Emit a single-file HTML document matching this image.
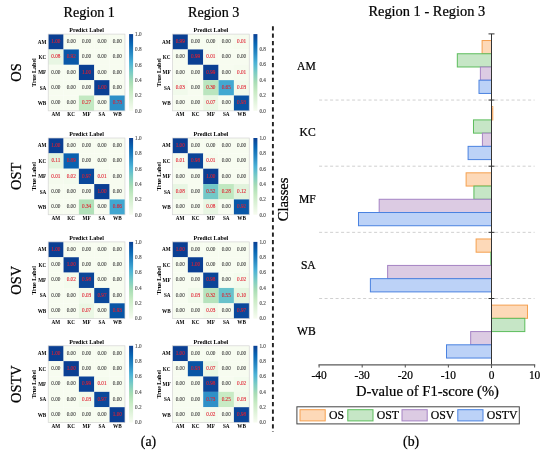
<!DOCTYPE html>
<html><head><meta charset="utf-8"><style>
html,body{margin:0;padding:0;background:#fff;}
body{width:550px;height:455px;overflow:hidden;}
svg{display:block;filter:blur(0.45px);}
text{font-family:"Liberation Serif",serif;}
</style></head><body>
<svg width="550" height="455" viewBox="0 0 550 455">
<rect width="550" height="455" fill="#fff"/>
<rect x="48.20" y="34.10" width="15.40" height="15.40" fill="#0a3f93"/>
<rect x="63.55" y="34.10" width="15.40" height="15.40" fill="#f7fcf0"/>
<rect x="78.90" y="34.10" width="15.40" height="15.40" fill="#f7fcf0"/>
<rect x="94.25" y="34.10" width="15.40" height="15.40" fill="#f7fcf0"/>
<rect x="109.60" y="34.10" width="15.40" height="15.40" fill="#f7fcf0"/>
<rect x="48.20" y="49.45" width="15.40" height="15.40" fill="#e8f6e3"/>
<rect x="63.55" y="49.45" width="15.40" height="15.40" fill="#0958a8"/>
<rect x="78.90" y="49.45" width="15.40" height="15.40" fill="#f7fcf0"/>
<rect x="94.25" y="49.45" width="15.40" height="15.40" fill="#f7fcf0"/>
<rect x="109.60" y="49.45" width="15.40" height="15.40" fill="#f7fcf0"/>
<rect x="48.20" y="64.80" width="15.40" height="15.40" fill="#f7fcf0"/>
<rect x="63.55" y="64.80" width="15.40" height="15.40" fill="#f7fcf0"/>
<rect x="78.90" y="64.80" width="15.40" height="15.40" fill="#0a3f93"/>
<rect x="94.25" y="64.80" width="15.40" height="15.40" fill="#f7fcf0"/>
<rect x="109.60" y="64.80" width="15.40" height="15.40" fill="#f7fcf0"/>
<rect x="48.20" y="80.15" width="15.40" height="15.40" fill="#f7fcf0"/>
<rect x="63.55" y="80.15" width="15.40" height="15.40" fill="#f7fcf0"/>
<rect x="78.90" y="80.15" width="15.40" height="15.40" fill="#f7fcf0"/>
<rect x="94.25" y="80.15" width="15.40" height="15.40" fill="#0a3f93"/>
<rect x="109.60" y="80.15" width="15.40" height="15.40" fill="#f7fcf0"/>
<rect x="48.20" y="95.50" width="15.40" height="15.40" fill="#f7fcf0"/>
<rect x="63.55" y="95.50" width="15.40" height="15.40" fill="#f7fcf0"/>
<rect x="78.90" y="95.50" width="15.40" height="15.40" fill="#c3e9c2"/>
<rect x="94.25" y="95.50" width="15.40" height="15.40" fill="#f7fcf0"/>
<rect x="109.60" y="95.50" width="15.40" height="15.40" fill="#2e90c7"/>
<rect x="48.20" y="34.10" width="76.75" height="76.75" fill="none" stroke="#d4d4d4" stroke-width="0.7"/>
<text font-size="5.2" text-anchor="middle" fill="#e02030" transform="translate(55.88 42.98)" stroke="#e02030" stroke-width="0.1">1.00</text>
<text font-size="5.2" text-anchor="middle" fill="#3c3c3c" transform="translate(71.22 42.98)" stroke="#3c3c3c" stroke-width="0.1">0.00</text>
<text font-size="5.2" text-anchor="middle" fill="#3c3c3c" transform="translate(86.58 42.98)" stroke="#3c3c3c" stroke-width="0.1">0.00</text>
<text font-size="5.2" text-anchor="middle" fill="#3c3c3c" transform="translate(101.93 42.98)" stroke="#3c3c3c" stroke-width="0.1">0.00</text>
<text font-size="5.2" text-anchor="middle" fill="#3c3c3c" transform="translate(117.28 42.98)" stroke="#3c3c3c" stroke-width="0.1">0.00</text>
<text font-size="5.2" text-anchor="middle" fill="#e02030" transform="translate(55.88 58.33)" stroke="#e02030" stroke-width="0.1">0.08</text>
<text font-size="5.2" text-anchor="middle" fill="#e02030" transform="translate(71.22 58.33)" stroke="#e02030" stroke-width="0.1">0.92</text>
<text font-size="5.2" text-anchor="middle" fill="#3c3c3c" transform="translate(86.58 58.33)" stroke="#3c3c3c" stroke-width="0.1">0.00</text>
<text font-size="5.2" text-anchor="middle" fill="#3c3c3c" transform="translate(101.93 58.33)" stroke="#3c3c3c" stroke-width="0.1">0.00</text>
<text font-size="5.2" text-anchor="middle" fill="#3c3c3c" transform="translate(117.28 58.33)" stroke="#3c3c3c" stroke-width="0.1">0.00</text>
<text font-size="5.2" text-anchor="middle" fill="#3c3c3c" transform="translate(55.88 73.67)" stroke="#3c3c3c" stroke-width="0.1">0.00</text>
<text font-size="5.2" text-anchor="middle" fill="#3c3c3c" transform="translate(71.22 73.67)" stroke="#3c3c3c" stroke-width="0.1">0.00</text>
<text font-size="5.2" text-anchor="middle" fill="#e02030" transform="translate(86.58 73.67)" stroke="#e02030" stroke-width="0.1">1.00</text>
<text font-size="5.2" text-anchor="middle" fill="#3c3c3c" transform="translate(101.93 73.67)" stroke="#3c3c3c" stroke-width="0.1">0.00</text>
<text font-size="5.2" text-anchor="middle" fill="#3c3c3c" transform="translate(117.28 73.67)" stroke="#3c3c3c" stroke-width="0.1">0.00</text>
<text font-size="5.2" text-anchor="middle" fill="#3c3c3c" transform="translate(55.88 89.03)" stroke="#3c3c3c" stroke-width="0.1">0.00</text>
<text font-size="5.2" text-anchor="middle" fill="#3c3c3c" transform="translate(71.22 89.03)" stroke="#3c3c3c" stroke-width="0.1">0.00</text>
<text font-size="5.2" text-anchor="middle" fill="#3c3c3c" transform="translate(86.58 89.03)" stroke="#3c3c3c" stroke-width="0.1">0.00</text>
<text font-size="5.2" text-anchor="middle" fill="#e02030" transform="translate(101.93 89.03)" stroke="#e02030" stroke-width="0.1">1.00</text>
<text font-size="5.2" text-anchor="middle" fill="#3c3c3c" transform="translate(117.28 89.03)" stroke="#3c3c3c" stroke-width="0.1">0.00</text>
<text font-size="5.2" text-anchor="middle" fill="#3c3c3c" transform="translate(55.88 104.38)" stroke="#3c3c3c" stroke-width="0.1">0.00</text>
<text font-size="5.2" text-anchor="middle" fill="#3c3c3c" transform="translate(71.22 104.38)" stroke="#3c3c3c" stroke-width="0.1">0.00</text>
<text font-size="5.2" text-anchor="middle" fill="#e02030" transform="translate(86.58 104.38)" stroke="#e02030" stroke-width="0.1">0.27</text>
<text font-size="5.2" text-anchor="middle" fill="#3c3c3c" transform="translate(101.93 104.38)" stroke="#3c3c3c" stroke-width="0.1">0.00</text>
<text font-size="5.2" text-anchor="middle" fill="#e02030" transform="translate(117.28 104.38)" stroke="#e02030" stroke-width="0.1">0.73</text>
<text font-size="5.2" text-anchor="end" fill="#000" font-weight="bold" transform="translate(46.30 43.57)">AM</text>
<text font-size="5.2" text-anchor="middle" fill="#000" font-weight="bold" transform="translate(55.88 116.35)">AM</text>
<text font-size="5.2" text-anchor="end" fill="#000" font-weight="bold" transform="translate(46.30 58.92)">KC</text>
<text font-size="5.2" text-anchor="middle" fill="#000" font-weight="bold" transform="translate(71.22 116.35)">KC</text>
<text font-size="5.2" text-anchor="end" fill="#000" font-weight="bold" transform="translate(46.30 74.27)">MF</text>
<text font-size="5.2" text-anchor="middle" fill="#000" font-weight="bold" transform="translate(86.58 116.35)">MF</text>
<text font-size="5.2" text-anchor="end" fill="#000" font-weight="bold" transform="translate(46.30 89.62)">SA</text>
<text font-size="5.2" text-anchor="middle" fill="#000" font-weight="bold" transform="translate(101.93 116.35)">SA</text>
<text font-size="5.2" text-anchor="end" fill="#000" font-weight="bold" transform="translate(46.30 104.98)">WB</text>
<text font-size="5.2" text-anchor="middle" fill="#000" font-weight="bold" transform="translate(117.28 116.35)">WB</text>
<text font-size="6" text-anchor="middle" fill="#000" font-weight="bold" transform="translate(86.58 31.80)">Predict Label</text>
<text font-size="6" text-anchor="middle" fill="#000" font-weight="bold" transform="translate(36.20 72.47) rotate(-90)">True Label</text>
<linearGradient id="g00" x1="0" y1="1" x2="0" y2="0"><stop offset="0.0000" stop-color="#f7fcf0"/><stop offset="0.1250" stop-color="#e0f3db"/><stop offset="0.2500" stop-color="#c8ebc4"/><stop offset="0.3750" stop-color="#a8ddb5"/><stop offset="0.5000" stop-color="#7bccc4"/><stop offset="0.6250" stop-color="#4bb2d6"/><stop offset="0.7500" stop-color="#2889c4"/><stop offset="0.8750" stop-color="#0866b4"/><stop offset="1.0000" stop-color="#0a3f93"/></linearGradient>
<rect x="129.10" y="34.10" width="4.0" height="76.75" fill="url(#g00)"/>
<text font-size="5.2" text-anchor="start" fill="#4a4a4a" transform="translate(135.10 112.65)" stroke="#4a4a4a" stroke-width="0.12">0.0</text>
<text font-size="5.2" text-anchor="start" fill="#4a4a4a" transform="translate(135.10 97.30)" stroke="#4a4a4a" stroke-width="0.12">0.2</text>
<text font-size="5.2" text-anchor="start" fill="#4a4a4a" transform="translate(135.10 81.95)" stroke="#4a4a4a" stroke-width="0.12">0.4</text>
<text font-size="5.2" text-anchor="start" fill="#4a4a4a" transform="translate(135.10 66.60)" stroke="#4a4a4a" stroke-width="0.12">0.6</text>
<text font-size="5.2" text-anchor="start" fill="#4a4a4a" transform="translate(135.10 51.25)" stroke="#4a4a4a" stroke-width="0.12">0.8</text>
<text font-size="5.2" text-anchor="start" fill="#4a4a4a" transform="translate(135.10 35.90)" stroke="#4a4a4a" stroke-width="0.12">1.0</text>
<rect x="48.20" y="138.00" width="15.40" height="15.40" fill="#0a3f93"/>
<rect x="63.55" y="138.00" width="15.40" height="15.40" fill="#f7fcf0"/>
<rect x="78.90" y="138.00" width="15.40" height="15.40" fill="#f7fcf0"/>
<rect x="94.25" y="138.00" width="15.40" height="15.40" fill="#f7fcf0"/>
<rect x="109.60" y="138.00" width="15.40" height="15.40" fill="#f7fcf0"/>
<rect x="48.20" y="153.35" width="15.40" height="15.40" fill="#e3f4de"/>
<rect x="63.55" y="153.35" width="15.40" height="15.40" fill="#0861b0"/>
<rect x="78.90" y="153.35" width="15.40" height="15.40" fill="#f7fcf0"/>
<rect x="94.25" y="153.35" width="15.40" height="15.40" fill="#f7fcf0"/>
<rect x="109.60" y="153.35" width="15.40" height="15.40" fill="#f7fcf0"/>
<rect x="48.20" y="168.70" width="15.40" height="15.40" fill="#f5fbee"/>
<rect x="63.55" y="168.70" width="15.40" height="15.40" fill="#f3fbed"/>
<rect x="78.90" y="168.70" width="15.40" height="15.40" fill="#0a489b"/>
<rect x="94.25" y="168.70" width="15.40" height="15.40" fill="#f5fbee"/>
<rect x="109.60" y="168.70" width="15.40" height="15.40" fill="#f7fcf0"/>
<rect x="48.20" y="184.05" width="15.40" height="15.40" fill="#f7fcf0"/>
<rect x="63.55" y="184.05" width="15.40" height="15.40" fill="#f7fcf0"/>
<rect x="78.90" y="184.05" width="15.40" height="15.40" fill="#f7fcf0"/>
<rect x="94.25" y="184.05" width="15.40" height="15.40" fill="#0a3f93"/>
<rect x="109.60" y="184.05" width="15.40" height="15.40" fill="#f7fcf0"/>
<rect x="48.20" y="199.40" width="15.40" height="15.40" fill="#f7fcf0"/>
<rect x="63.55" y="199.40" width="15.40" height="15.40" fill="#f7fcf0"/>
<rect x="78.90" y="199.40" width="15.40" height="15.40" fill="#b1e1b9"/>
<rect x="94.25" y="199.40" width="15.40" height="15.40" fill="#f7fcf0"/>
<rect x="109.60" y="199.40" width="15.40" height="15.40" fill="#41a7d1"/>
<rect x="48.20" y="138.00" width="76.75" height="76.75" fill="none" stroke="#d4d4d4" stroke-width="0.7"/>
<text font-size="5.2" text-anchor="middle" fill="#e02030" transform="translate(55.88 146.88)" stroke="#e02030" stroke-width="0.1">1.00</text>
<text font-size="5.2" text-anchor="middle" fill="#3c3c3c" transform="translate(71.22 146.88)" stroke="#3c3c3c" stroke-width="0.1">0.00</text>
<text font-size="5.2" text-anchor="middle" fill="#3c3c3c" transform="translate(86.58 146.88)" stroke="#3c3c3c" stroke-width="0.1">0.00</text>
<text font-size="5.2" text-anchor="middle" fill="#3c3c3c" transform="translate(101.93 146.88)" stroke="#3c3c3c" stroke-width="0.1">0.00</text>
<text font-size="5.2" text-anchor="middle" fill="#3c3c3c" transform="translate(117.28 146.88)" stroke="#3c3c3c" stroke-width="0.1">0.00</text>
<text font-size="5.2" text-anchor="middle" fill="#e02030" transform="translate(55.88 162.22)" stroke="#e02030" stroke-width="0.1">0.11</text>
<text font-size="5.2" text-anchor="middle" fill="#e02030" transform="translate(71.22 162.22)" stroke="#e02030" stroke-width="0.1">0.89</text>
<text font-size="5.2" text-anchor="middle" fill="#3c3c3c" transform="translate(86.58 162.22)" stroke="#3c3c3c" stroke-width="0.1">0.00</text>
<text font-size="5.2" text-anchor="middle" fill="#3c3c3c" transform="translate(101.93 162.22)" stroke="#3c3c3c" stroke-width="0.1">0.00</text>
<text font-size="5.2" text-anchor="middle" fill="#3c3c3c" transform="translate(117.28 162.22)" stroke="#3c3c3c" stroke-width="0.1">0.00</text>
<text font-size="5.2" text-anchor="middle" fill="#e02030" transform="translate(55.88 177.57)" stroke="#e02030" stroke-width="0.1">0.01</text>
<text font-size="5.2" text-anchor="middle" fill="#e02030" transform="translate(71.22 177.57)" stroke="#e02030" stroke-width="0.1">0.02</text>
<text font-size="5.2" text-anchor="middle" fill="#e02030" transform="translate(86.58 177.57)" stroke="#e02030" stroke-width="0.1">0.97</text>
<text font-size="5.2" text-anchor="middle" fill="#e02030" transform="translate(101.93 177.57)" stroke="#e02030" stroke-width="0.1">0.01</text>
<text font-size="5.2" text-anchor="middle" fill="#3c3c3c" transform="translate(117.28 177.57)" stroke="#3c3c3c" stroke-width="0.1">0.00</text>
<text font-size="5.2" text-anchor="middle" fill="#3c3c3c" transform="translate(55.88 192.92)" stroke="#3c3c3c" stroke-width="0.1">0.00</text>
<text font-size="5.2" text-anchor="middle" fill="#3c3c3c" transform="translate(71.22 192.92)" stroke="#3c3c3c" stroke-width="0.1">0.00</text>
<text font-size="5.2" text-anchor="middle" fill="#3c3c3c" transform="translate(86.58 192.92)" stroke="#3c3c3c" stroke-width="0.1">0.00</text>
<text font-size="5.2" text-anchor="middle" fill="#e02030" transform="translate(101.93 192.92)" stroke="#e02030" stroke-width="0.1">1.00</text>
<text font-size="5.2" text-anchor="middle" fill="#3c3c3c" transform="translate(117.28 192.92)" stroke="#3c3c3c" stroke-width="0.1">0.00</text>
<text font-size="5.2" text-anchor="middle" fill="#3c3c3c" transform="translate(55.88 208.27)" stroke="#3c3c3c" stroke-width="0.1">0.00</text>
<text font-size="5.2" text-anchor="middle" fill="#3c3c3c" transform="translate(71.22 208.27)" stroke="#3c3c3c" stroke-width="0.1">0.00</text>
<text font-size="5.2" text-anchor="middle" fill="#e02030" transform="translate(86.58 208.27)" stroke="#e02030" stroke-width="0.1">0.34</text>
<text font-size="5.2" text-anchor="middle" fill="#3c3c3c" transform="translate(101.93 208.27)" stroke="#3c3c3c" stroke-width="0.1">0.00</text>
<text font-size="5.2" text-anchor="middle" fill="#e02030" transform="translate(117.28 208.27)" stroke="#e02030" stroke-width="0.1">0.66</text>
<text font-size="5.2" text-anchor="end" fill="#000" font-weight="bold" transform="translate(46.30 147.48)">AM</text>
<text font-size="5.2" text-anchor="middle" fill="#000" font-weight="bold" transform="translate(55.88 220.25)">AM</text>
<text font-size="5.2" text-anchor="end" fill="#000" font-weight="bold" transform="translate(46.30 162.83)">KC</text>
<text font-size="5.2" text-anchor="middle" fill="#000" font-weight="bold" transform="translate(71.22 220.25)">KC</text>
<text font-size="5.2" text-anchor="end" fill="#000" font-weight="bold" transform="translate(46.30 178.18)">MF</text>
<text font-size="5.2" text-anchor="middle" fill="#000" font-weight="bold" transform="translate(86.58 220.25)">MF</text>
<text font-size="5.2" text-anchor="end" fill="#000" font-weight="bold" transform="translate(46.30 193.53)">SA</text>
<text font-size="5.2" text-anchor="middle" fill="#000" font-weight="bold" transform="translate(101.93 220.25)">SA</text>
<text font-size="5.2" text-anchor="end" fill="#000" font-weight="bold" transform="translate(46.30 208.88)">WB</text>
<text font-size="5.2" text-anchor="middle" fill="#000" font-weight="bold" transform="translate(117.28 220.25)">WB</text>
<text font-size="6" text-anchor="middle" fill="#000" font-weight="bold" transform="translate(86.58 135.70)">Predict Label</text>
<text font-size="6" text-anchor="middle" fill="#000" font-weight="bold" transform="translate(36.20 176.38) rotate(-90)">True Label</text>
<linearGradient id="g01" x1="0" y1="1" x2="0" y2="0"><stop offset="0.0000" stop-color="#f7fcf0"/><stop offset="0.1250" stop-color="#e0f3db"/><stop offset="0.2500" stop-color="#c8ebc4"/><stop offset="0.3750" stop-color="#a8ddb5"/><stop offset="0.5000" stop-color="#7bccc4"/><stop offset="0.6250" stop-color="#4bb2d6"/><stop offset="0.7500" stop-color="#2889c4"/><stop offset="0.8750" stop-color="#0866b4"/><stop offset="1.0000" stop-color="#0a3f93"/></linearGradient>
<rect x="129.10" y="138.00" width="4.0" height="76.75" fill="url(#g01)"/>
<text font-size="5.2" text-anchor="start" fill="#4a4a4a" transform="translate(135.10 216.55)" stroke="#4a4a4a" stroke-width="0.12">0.0</text>
<text font-size="5.2" text-anchor="start" fill="#4a4a4a" transform="translate(135.10 201.20)" stroke="#4a4a4a" stroke-width="0.12">0.2</text>
<text font-size="5.2" text-anchor="start" fill="#4a4a4a" transform="translate(135.10 185.85)" stroke="#4a4a4a" stroke-width="0.12">0.4</text>
<text font-size="5.2" text-anchor="start" fill="#4a4a4a" transform="translate(135.10 170.50)" stroke="#4a4a4a" stroke-width="0.12">0.6</text>
<text font-size="5.2" text-anchor="start" fill="#4a4a4a" transform="translate(135.10 155.15)" stroke="#4a4a4a" stroke-width="0.12">0.8</text>
<text font-size="5.2" text-anchor="start" fill="#4a4a4a" transform="translate(135.10 139.80)" stroke="#4a4a4a" stroke-width="0.12">1.0</text>
<rect x="48.20" y="241.90" width="15.40" height="15.40" fill="#0a3f93"/>
<rect x="63.55" y="241.90" width="15.40" height="15.40" fill="#f7fcf0"/>
<rect x="78.90" y="241.90" width="15.40" height="15.40" fill="#f7fcf0"/>
<rect x="94.25" y="241.90" width="15.40" height="15.40" fill="#f7fcf0"/>
<rect x="109.60" y="241.90" width="15.40" height="15.40" fill="#f7fcf0"/>
<rect x="48.20" y="257.25" width="15.40" height="15.40" fill="#f7fcf0"/>
<rect x="63.55" y="257.25" width="15.40" height="15.40" fill="#0a3f93"/>
<rect x="78.90" y="257.25" width="15.40" height="15.40" fill="#f7fcf0"/>
<rect x="94.25" y="257.25" width="15.40" height="15.40" fill="#f7fcf0"/>
<rect x="109.60" y="257.25" width="15.40" height="15.40" fill="#f7fcf0"/>
<rect x="48.20" y="272.60" width="15.40" height="15.40" fill="#f7fcf0"/>
<rect x="63.55" y="272.60" width="15.40" height="15.40" fill="#f3fbed"/>
<rect x="78.90" y="272.60" width="15.40" height="15.40" fill="#0a4598"/>
<rect x="94.25" y="272.60" width="15.40" height="15.40" fill="#f7fcf0"/>
<rect x="109.60" y="272.60" width="15.40" height="15.40" fill="#f7fcf0"/>
<rect x="48.20" y="287.95" width="15.40" height="15.40" fill="#f7fcf0"/>
<rect x="63.55" y="287.95" width="15.40" height="15.40" fill="#f7fcf0"/>
<rect x="78.90" y="287.95" width="15.40" height="15.40" fill="#f1faeb"/>
<rect x="94.25" y="287.95" width="15.40" height="15.40" fill="#0a489b"/>
<rect x="109.60" y="287.95" width="15.40" height="15.40" fill="#f7fcf0"/>
<rect x="48.20" y="303.30" width="15.40" height="15.40" fill="#f7fcf0"/>
<rect x="63.55" y="303.30" width="15.40" height="15.40" fill="#f7fcf0"/>
<rect x="78.90" y="303.30" width="15.40" height="15.40" fill="#eaf7e4"/>
<rect x="94.25" y="303.30" width="15.40" height="15.40" fill="#f7fcf0"/>
<rect x="109.60" y="303.30" width="15.40" height="15.40" fill="#0955a5"/>
<rect x="48.20" y="241.90" width="76.75" height="76.75" fill="none" stroke="#d4d4d4" stroke-width="0.7"/>
<text font-size="5.2" text-anchor="middle" fill="#e02030" transform="translate(55.88 250.78)" stroke="#e02030" stroke-width="0.1">1.00</text>
<text font-size="5.2" text-anchor="middle" fill="#3c3c3c" transform="translate(71.22 250.78)" stroke="#3c3c3c" stroke-width="0.1">0.00</text>
<text font-size="5.2" text-anchor="middle" fill="#3c3c3c" transform="translate(86.58 250.78)" stroke="#3c3c3c" stroke-width="0.1">0.00</text>
<text font-size="5.2" text-anchor="middle" fill="#3c3c3c" transform="translate(101.93 250.78)" stroke="#3c3c3c" stroke-width="0.1">0.00</text>
<text font-size="5.2" text-anchor="middle" fill="#3c3c3c" transform="translate(117.28 250.78)" stroke="#3c3c3c" stroke-width="0.1">0.00</text>
<text font-size="5.2" text-anchor="middle" fill="#3c3c3c" transform="translate(55.88 266.12)" stroke="#3c3c3c" stroke-width="0.1">0.00</text>
<text font-size="5.2" text-anchor="middle" fill="#e02030" transform="translate(71.22 266.12)" stroke="#e02030" stroke-width="0.1">1.00</text>
<text font-size="5.2" text-anchor="middle" fill="#3c3c3c" transform="translate(86.58 266.12)" stroke="#3c3c3c" stroke-width="0.1">0.00</text>
<text font-size="5.2" text-anchor="middle" fill="#3c3c3c" transform="translate(101.93 266.12)" stroke="#3c3c3c" stroke-width="0.1">0.00</text>
<text font-size="5.2" text-anchor="middle" fill="#3c3c3c" transform="translate(117.28 266.12)" stroke="#3c3c3c" stroke-width="0.1">0.00</text>
<text font-size="5.2" text-anchor="middle" fill="#3c3c3c" transform="translate(55.88 281.47)" stroke="#3c3c3c" stroke-width="0.1">0.00</text>
<text font-size="5.2" text-anchor="middle" fill="#e02030" transform="translate(71.22 281.47)" stroke="#e02030" stroke-width="0.1">0.02</text>
<text font-size="5.2" text-anchor="middle" fill="#e02030" transform="translate(86.58 281.47)" stroke="#e02030" stroke-width="0.1">0.98</text>
<text font-size="5.2" text-anchor="middle" fill="#3c3c3c" transform="translate(101.93 281.47)" stroke="#3c3c3c" stroke-width="0.1">0.00</text>
<text font-size="5.2" text-anchor="middle" fill="#3c3c3c" transform="translate(117.28 281.47)" stroke="#3c3c3c" stroke-width="0.1">0.00</text>
<text font-size="5.2" text-anchor="middle" fill="#3c3c3c" transform="translate(55.88 296.82)" stroke="#3c3c3c" stroke-width="0.1">0.00</text>
<text font-size="5.2" text-anchor="middle" fill="#3c3c3c" transform="translate(71.22 296.82)" stroke="#3c3c3c" stroke-width="0.1">0.00</text>
<text font-size="5.2" text-anchor="middle" fill="#e02030" transform="translate(86.58 296.82)" stroke="#e02030" stroke-width="0.1">0.03</text>
<text font-size="5.2" text-anchor="middle" fill="#e02030" transform="translate(101.93 296.82)" stroke="#e02030" stroke-width="0.1">0.97</text>
<text font-size="5.2" text-anchor="middle" fill="#3c3c3c" transform="translate(117.28 296.82)" stroke="#3c3c3c" stroke-width="0.1">0.00</text>
<text font-size="5.2" text-anchor="middle" fill="#3c3c3c" transform="translate(55.88 312.18)" stroke="#3c3c3c" stroke-width="0.1">0.00</text>
<text font-size="5.2" text-anchor="middle" fill="#3c3c3c" transform="translate(71.22 312.18)" stroke="#3c3c3c" stroke-width="0.1">0.00</text>
<text font-size="5.2" text-anchor="middle" fill="#e02030" transform="translate(86.58 312.18)" stroke="#e02030" stroke-width="0.1">0.07</text>
<text font-size="5.2" text-anchor="middle" fill="#3c3c3c" transform="translate(101.93 312.18)" stroke="#3c3c3c" stroke-width="0.1">0.00</text>
<text font-size="5.2" text-anchor="middle" fill="#e02030" transform="translate(117.28 312.18)" stroke="#e02030" stroke-width="0.1">0.93</text>
<text font-size="5.2" text-anchor="end" fill="#000" font-weight="bold" transform="translate(46.30 251.38)">AM</text>
<text font-size="5.2" text-anchor="middle" fill="#000" font-weight="bold" transform="translate(55.88 324.15)">AM</text>
<text font-size="5.2" text-anchor="end" fill="#000" font-weight="bold" transform="translate(46.30 266.73)">KC</text>
<text font-size="5.2" text-anchor="middle" fill="#000" font-weight="bold" transform="translate(71.22 324.15)">KC</text>
<text font-size="5.2" text-anchor="end" fill="#000" font-weight="bold" transform="translate(46.30 282.07)">MF</text>
<text font-size="5.2" text-anchor="middle" fill="#000" font-weight="bold" transform="translate(86.58 324.15)">MF</text>
<text font-size="5.2" text-anchor="end" fill="#000" font-weight="bold" transform="translate(46.30 297.43)">SA</text>
<text font-size="5.2" text-anchor="middle" fill="#000" font-weight="bold" transform="translate(101.93 324.15)">SA</text>
<text font-size="5.2" text-anchor="end" fill="#000" font-weight="bold" transform="translate(46.30 312.78)">WB</text>
<text font-size="5.2" text-anchor="middle" fill="#000" font-weight="bold" transform="translate(117.28 324.15)">WB</text>
<text font-size="6" text-anchor="middle" fill="#000" font-weight="bold" transform="translate(86.58 239.60)">Predict Label</text>
<text font-size="6" text-anchor="middle" fill="#000" font-weight="bold" transform="translate(36.20 280.27) rotate(-90)">True Label</text>
<linearGradient id="g02" x1="0" y1="1" x2="0" y2="0"><stop offset="0.0000" stop-color="#f7fcf0"/><stop offset="0.1250" stop-color="#e0f3db"/><stop offset="0.2500" stop-color="#c8ebc4"/><stop offset="0.3750" stop-color="#a8ddb5"/><stop offset="0.5000" stop-color="#7bccc4"/><stop offset="0.6250" stop-color="#4bb2d6"/><stop offset="0.7500" stop-color="#2889c4"/><stop offset="0.8750" stop-color="#0866b4"/><stop offset="1.0000" stop-color="#0a3f93"/></linearGradient>
<rect x="129.10" y="241.90" width="4.0" height="76.75" fill="url(#g02)"/>
<text font-size="5.2" text-anchor="start" fill="#4a4a4a" transform="translate(135.10 320.45)" stroke="#4a4a4a" stroke-width="0.12">0.0</text>
<text font-size="5.2" text-anchor="start" fill="#4a4a4a" transform="translate(135.10 305.10)" stroke="#4a4a4a" stroke-width="0.12">0.2</text>
<text font-size="5.2" text-anchor="start" fill="#4a4a4a" transform="translate(135.10 289.75)" stroke="#4a4a4a" stroke-width="0.12">0.4</text>
<text font-size="5.2" text-anchor="start" fill="#4a4a4a" transform="translate(135.10 274.40)" stroke="#4a4a4a" stroke-width="0.12">0.6</text>
<text font-size="5.2" text-anchor="start" fill="#4a4a4a" transform="translate(135.10 259.05)" stroke="#4a4a4a" stroke-width="0.12">0.8</text>
<text font-size="5.2" text-anchor="start" fill="#4a4a4a" transform="translate(135.10 243.70)" stroke="#4a4a4a" stroke-width="0.12">1.0</text>
<rect x="48.20" y="345.80" width="15.40" height="15.40" fill="#0a3f93"/>
<rect x="63.55" y="345.80" width="15.40" height="15.40" fill="#f7fcf0"/>
<rect x="78.90" y="345.80" width="15.40" height="15.40" fill="#f7fcf0"/>
<rect x="94.25" y="345.80" width="15.40" height="15.40" fill="#f7fcf0"/>
<rect x="109.60" y="345.80" width="15.40" height="15.40" fill="#f7fcf0"/>
<rect x="48.20" y="361.15" width="15.40" height="15.40" fill="#f7fcf0"/>
<rect x="63.55" y="361.15" width="15.40" height="15.40" fill="#0a3f93"/>
<rect x="78.90" y="361.15" width="15.40" height="15.40" fill="#f7fcf0"/>
<rect x="94.25" y="361.15" width="15.40" height="15.40" fill="#f7fcf0"/>
<rect x="109.60" y="361.15" width="15.40" height="15.40" fill="#f7fcf0"/>
<rect x="48.20" y="376.50" width="15.40" height="15.40" fill="#f7fcf0"/>
<rect x="63.55" y="376.50" width="15.40" height="15.40" fill="#f7fcf0"/>
<rect x="78.90" y="376.50" width="15.40" height="15.40" fill="#0a4296"/>
<rect x="94.25" y="376.50" width="15.40" height="15.40" fill="#f5fbee"/>
<rect x="109.60" y="376.50" width="15.40" height="15.40" fill="#f7fcf0"/>
<rect x="48.20" y="391.85" width="15.40" height="15.40" fill="#f7fcf0"/>
<rect x="63.55" y="391.85" width="15.40" height="15.40" fill="#f7fcf0"/>
<rect x="78.90" y="391.85" width="15.40" height="15.40" fill="#f1faeb"/>
<rect x="94.25" y="391.85" width="15.40" height="15.40" fill="#0a489b"/>
<rect x="109.60" y="391.85" width="15.40" height="15.40" fill="#f7fcf0"/>
<rect x="48.20" y="407.20" width="15.40" height="15.40" fill="#f7fcf0"/>
<rect x="63.55" y="407.20" width="15.40" height="15.40" fill="#f7fcf0"/>
<rect x="78.90" y="407.20" width="15.40" height="15.40" fill="#f7fcf0"/>
<rect x="94.25" y="407.20" width="15.40" height="15.40" fill="#f7fcf0"/>
<rect x="109.60" y="407.20" width="15.40" height="15.40" fill="#0a3f93"/>
<rect x="48.20" y="345.80" width="76.75" height="76.75" fill="none" stroke="#d4d4d4" stroke-width="0.7"/>
<text font-size="5.2" text-anchor="middle" fill="#e02030" transform="translate(55.88 354.68)" stroke="#e02030" stroke-width="0.1">1.00</text>
<text font-size="5.2" text-anchor="middle" fill="#3c3c3c" transform="translate(71.22 354.68)" stroke="#3c3c3c" stroke-width="0.1">0.00</text>
<text font-size="5.2" text-anchor="middle" fill="#3c3c3c" transform="translate(86.58 354.68)" stroke="#3c3c3c" stroke-width="0.1">0.00</text>
<text font-size="5.2" text-anchor="middle" fill="#3c3c3c" transform="translate(101.93 354.68)" stroke="#3c3c3c" stroke-width="0.1">0.00</text>
<text font-size="5.2" text-anchor="middle" fill="#3c3c3c" transform="translate(117.28 354.68)" stroke="#3c3c3c" stroke-width="0.1">0.00</text>
<text font-size="5.2" text-anchor="middle" fill="#3c3c3c" transform="translate(55.88 370.02)" stroke="#3c3c3c" stroke-width="0.1">0.00</text>
<text font-size="5.2" text-anchor="middle" fill="#e02030" transform="translate(71.22 370.02)" stroke="#e02030" stroke-width="0.1">1.00</text>
<text font-size="5.2" text-anchor="middle" fill="#3c3c3c" transform="translate(86.58 370.02)" stroke="#3c3c3c" stroke-width="0.1">0.00</text>
<text font-size="5.2" text-anchor="middle" fill="#3c3c3c" transform="translate(101.93 370.02)" stroke="#3c3c3c" stroke-width="0.1">0.00</text>
<text font-size="5.2" text-anchor="middle" fill="#3c3c3c" transform="translate(117.28 370.02)" stroke="#3c3c3c" stroke-width="0.1">0.00</text>
<text font-size="5.2" text-anchor="middle" fill="#3c3c3c" transform="translate(55.88 385.38)" stroke="#3c3c3c" stroke-width="0.1">0.00</text>
<text font-size="5.2" text-anchor="middle" fill="#3c3c3c" transform="translate(71.22 385.38)" stroke="#3c3c3c" stroke-width="0.1">0.00</text>
<text font-size="5.2" text-anchor="middle" fill="#e02030" transform="translate(86.58 385.38)" stroke="#e02030" stroke-width="0.1">0.99</text>
<text font-size="5.2" text-anchor="middle" fill="#e02030" transform="translate(101.93 385.38)" stroke="#e02030" stroke-width="0.1">0.01</text>
<text font-size="5.2" text-anchor="middle" fill="#3c3c3c" transform="translate(117.28 385.38)" stroke="#3c3c3c" stroke-width="0.1">0.00</text>
<text font-size="5.2" text-anchor="middle" fill="#3c3c3c" transform="translate(55.88 400.73)" stroke="#3c3c3c" stroke-width="0.1">0.00</text>
<text font-size="5.2" text-anchor="middle" fill="#3c3c3c" transform="translate(71.22 400.73)" stroke="#3c3c3c" stroke-width="0.1">0.00</text>
<text font-size="5.2" text-anchor="middle" fill="#e02030" transform="translate(86.58 400.73)" stroke="#e02030" stroke-width="0.1">0.03</text>
<text font-size="5.2" text-anchor="middle" fill="#e02030" transform="translate(101.93 400.73)" stroke="#e02030" stroke-width="0.1">0.97</text>
<text font-size="5.2" text-anchor="middle" fill="#3c3c3c" transform="translate(117.28 400.73)" stroke="#3c3c3c" stroke-width="0.1">0.00</text>
<text font-size="5.2" text-anchor="middle" fill="#3c3c3c" transform="translate(55.88 416.07)" stroke="#3c3c3c" stroke-width="0.1">0.00</text>
<text font-size="5.2" text-anchor="middle" fill="#3c3c3c" transform="translate(71.22 416.07)" stroke="#3c3c3c" stroke-width="0.1">0.00</text>
<text font-size="5.2" text-anchor="middle" fill="#3c3c3c" transform="translate(86.58 416.07)" stroke="#3c3c3c" stroke-width="0.1">0.00</text>
<text font-size="5.2" text-anchor="middle" fill="#3c3c3c" transform="translate(101.93 416.07)" stroke="#3c3c3c" stroke-width="0.1">0.00</text>
<text font-size="5.2" text-anchor="middle" fill="#e02030" transform="translate(117.28 416.07)" stroke="#e02030" stroke-width="0.1">1.00</text>
<text font-size="5.2" text-anchor="end" fill="#000" font-weight="bold" transform="translate(46.30 355.28)">AM</text>
<text font-size="5.2" text-anchor="middle" fill="#000" font-weight="bold" transform="translate(55.88 428.05)">AM</text>
<text font-size="5.2" text-anchor="end" fill="#000" font-weight="bold" transform="translate(46.30 370.62)">KC</text>
<text font-size="5.2" text-anchor="middle" fill="#000" font-weight="bold" transform="translate(71.22 428.05)">KC</text>
<text font-size="5.2" text-anchor="end" fill="#000" font-weight="bold" transform="translate(46.30 385.98)">MF</text>
<text font-size="5.2" text-anchor="middle" fill="#000" font-weight="bold" transform="translate(86.58 428.05)">MF</text>
<text font-size="5.2" text-anchor="end" fill="#000" font-weight="bold" transform="translate(46.30 401.33)">SA</text>
<text font-size="5.2" text-anchor="middle" fill="#000" font-weight="bold" transform="translate(101.93 428.05)">SA</text>
<text font-size="5.2" text-anchor="end" fill="#000" font-weight="bold" transform="translate(46.30 416.68)">WB</text>
<text font-size="5.2" text-anchor="middle" fill="#000" font-weight="bold" transform="translate(117.28 428.05)">WB</text>
<text font-size="6" text-anchor="middle" fill="#000" font-weight="bold" transform="translate(86.58 343.50)">Predict Label</text>
<text font-size="6" text-anchor="middle" fill="#000" font-weight="bold" transform="translate(36.20 384.18) rotate(-90)">True Label</text>
<linearGradient id="g03" x1="0" y1="1" x2="0" y2="0"><stop offset="0.0000" stop-color="#f7fcf0"/><stop offset="0.1250" stop-color="#e0f3db"/><stop offset="0.2500" stop-color="#c8ebc4"/><stop offset="0.3750" stop-color="#a8ddb5"/><stop offset="0.5000" stop-color="#7bccc4"/><stop offset="0.6250" stop-color="#4bb2d6"/><stop offset="0.7500" stop-color="#2889c4"/><stop offset="0.8750" stop-color="#0866b4"/><stop offset="1.0000" stop-color="#0a3f93"/></linearGradient>
<rect x="129.10" y="345.80" width="4.0" height="76.75" fill="url(#g03)"/>
<text font-size="5.2" text-anchor="start" fill="#4a4a4a" transform="translate(135.10 424.35)" stroke="#4a4a4a" stroke-width="0.12">0.0</text>
<text font-size="5.2" text-anchor="start" fill="#4a4a4a" transform="translate(135.10 409.00)" stroke="#4a4a4a" stroke-width="0.12">0.2</text>
<text font-size="5.2" text-anchor="start" fill="#4a4a4a" transform="translate(135.10 393.65)" stroke="#4a4a4a" stroke-width="0.12">0.4</text>
<text font-size="5.2" text-anchor="start" fill="#4a4a4a" transform="translate(135.10 378.30)" stroke="#4a4a4a" stroke-width="0.12">0.6</text>
<text font-size="5.2" text-anchor="start" fill="#4a4a4a" transform="translate(135.10 362.95)" stroke="#4a4a4a" stroke-width="0.12">0.8</text>
<text font-size="5.2" text-anchor="start" fill="#4a4a4a" transform="translate(135.10 347.60)" stroke="#4a4a4a" stroke-width="0.12">1.0</text>
<rect x="172.50" y="34.10" width="15.40" height="15.40" fill="#0a3f93"/>
<rect x="187.85" y="34.10" width="15.40" height="15.40" fill="#f7fcf0"/>
<rect x="203.20" y="34.10" width="15.40" height="15.40" fill="#f7fcf0"/>
<rect x="218.55" y="34.10" width="15.40" height="15.40" fill="#f7fcf0"/>
<rect x="233.90" y="34.10" width="15.40" height="15.40" fill="#f5fbee"/>
<rect x="172.50" y="49.45" width="15.40" height="15.40" fill="#f7fcf0"/>
<rect x="187.85" y="49.45" width="15.40" height="15.40" fill="#0a3f93"/>
<rect x="203.20" y="49.45" width="15.40" height="15.40" fill="#f5fbee"/>
<rect x="218.55" y="49.45" width="15.40" height="15.40" fill="#f7fcf0"/>
<rect x="233.90" y="49.45" width="15.40" height="15.40" fill="#f7fcf0"/>
<rect x="172.50" y="64.80" width="15.40" height="15.40" fill="#f7fcf0"/>
<rect x="187.85" y="64.80" width="15.40" height="15.40" fill="#f7fcf0"/>
<rect x="203.20" y="64.80" width="15.40" height="15.40" fill="#0a3f93"/>
<rect x="218.55" y="64.80" width="15.40" height="15.40" fill="#f7fcf0"/>
<rect x="233.90" y="64.80" width="15.40" height="15.40" fill="#f5fbee"/>
<rect x="172.50" y="80.15" width="15.40" height="15.40" fill="#f1faeb"/>
<rect x="187.85" y="80.15" width="15.40" height="15.40" fill="#f7fcf0"/>
<rect x="203.20" y="80.15" width="15.40" height="15.40" fill="#bae5be"/>
<rect x="218.55" y="80.15" width="15.40" height="15.40" fill="#42a8d1"/>
<rect x="233.90" y="80.15" width="15.40" height="15.40" fill="#f1faeb"/>
<rect x="172.50" y="95.50" width="15.40" height="15.40" fill="#f7fcf0"/>
<rect x="187.85" y="95.50" width="15.40" height="15.40" fill="#f7fcf0"/>
<rect x="203.20" y="95.50" width="15.40" height="15.40" fill="#eaf7e4"/>
<rect x="218.55" y="95.50" width="15.40" height="15.40" fill="#f7fcf0"/>
<rect x="233.90" y="95.50" width="15.40" height="15.40" fill="#0952a3"/>
<rect x="172.50" y="34.10" width="76.75" height="76.75" fill="none" stroke="#d4d4d4" stroke-width="0.7"/>
<text font-size="5.2" text-anchor="middle" fill="#e02030" transform="translate(180.18 42.98)" stroke="#e02030" stroke-width="0.1">0.99</text>
<text font-size="5.2" text-anchor="middle" fill="#3c3c3c" transform="translate(195.53 42.98)" stroke="#3c3c3c" stroke-width="0.1">0.00</text>
<text font-size="5.2" text-anchor="middle" fill="#3c3c3c" transform="translate(210.88 42.98)" stroke="#3c3c3c" stroke-width="0.1">0.00</text>
<text font-size="5.2" text-anchor="middle" fill="#3c3c3c" transform="translate(226.22 42.98)" stroke="#3c3c3c" stroke-width="0.1">0.00</text>
<text font-size="5.2" text-anchor="middle" fill="#e02030" transform="translate(241.57 42.98)" stroke="#e02030" stroke-width="0.1">0.01</text>
<text font-size="5.2" text-anchor="middle" fill="#3c3c3c" transform="translate(180.18 58.33)" stroke="#3c3c3c" stroke-width="0.1">0.00</text>
<text font-size="5.2" text-anchor="middle" fill="#e02030" transform="translate(195.53 58.33)" stroke="#e02030" stroke-width="0.1">0.99</text>
<text font-size="5.2" text-anchor="middle" fill="#e02030" transform="translate(210.88 58.33)" stroke="#e02030" stroke-width="0.1">0.01</text>
<text font-size="5.2" text-anchor="middle" fill="#3c3c3c" transform="translate(226.22 58.33)" stroke="#3c3c3c" stroke-width="0.1">0.00</text>
<text font-size="5.2" text-anchor="middle" fill="#3c3c3c" transform="translate(241.57 58.33)" stroke="#3c3c3c" stroke-width="0.1">0.00</text>
<text font-size="5.2" text-anchor="middle" fill="#3c3c3c" transform="translate(180.18 73.67)" stroke="#3c3c3c" stroke-width="0.1">0.00</text>
<text font-size="5.2" text-anchor="middle" fill="#3c3c3c" transform="translate(195.53 73.67)" stroke="#3c3c3c" stroke-width="0.1">0.00</text>
<text font-size="5.2" text-anchor="middle" fill="#e02030" transform="translate(210.88 73.67)" stroke="#e02030" stroke-width="0.1">0.99</text>
<text font-size="5.2" text-anchor="middle" fill="#3c3c3c" transform="translate(226.22 73.67)" stroke="#3c3c3c" stroke-width="0.1">0.00</text>
<text font-size="5.2" text-anchor="middle" fill="#e02030" transform="translate(241.57 73.67)" stroke="#e02030" stroke-width="0.1">0.01</text>
<text font-size="5.2" text-anchor="middle" fill="#e02030" transform="translate(180.18 89.03)" stroke="#e02030" stroke-width="0.1">0.03</text>
<text font-size="5.2" text-anchor="middle" fill="#3c3c3c" transform="translate(195.53 89.03)" stroke="#3c3c3c" stroke-width="0.1">0.00</text>
<text font-size="5.2" text-anchor="middle" fill="#e02030" transform="translate(210.88 89.03)" stroke="#e02030" stroke-width="0.1">0.30</text>
<text font-size="5.2" text-anchor="middle" fill="#e02030" transform="translate(226.22 89.03)" stroke="#e02030" stroke-width="0.1">0.65</text>
<text font-size="5.2" text-anchor="middle" fill="#e02030" transform="translate(241.57 89.03)" stroke="#e02030" stroke-width="0.1">0.03</text>
<text font-size="5.2" text-anchor="middle" fill="#3c3c3c" transform="translate(180.18 104.38)" stroke="#3c3c3c" stroke-width="0.1">0.00</text>
<text font-size="5.2" text-anchor="middle" fill="#3c3c3c" transform="translate(195.53 104.38)" stroke="#3c3c3c" stroke-width="0.1">0.00</text>
<text font-size="5.2" text-anchor="middle" fill="#e02030" transform="translate(210.88 104.38)" stroke="#e02030" stroke-width="0.1">0.07</text>
<text font-size="5.2" text-anchor="middle" fill="#3c3c3c" transform="translate(226.22 104.38)" stroke="#3c3c3c" stroke-width="0.1">0.00</text>
<text font-size="5.2" text-anchor="middle" fill="#e02030" transform="translate(241.57 104.38)" stroke="#e02030" stroke-width="0.1">0.93</text>
<text font-size="5.2" text-anchor="end" fill="#000" font-weight="bold" transform="translate(170.60 43.57)">AM</text>
<text font-size="5.2" text-anchor="middle" fill="#000" font-weight="bold" transform="translate(180.18 116.35)">AM</text>
<text font-size="5.2" text-anchor="end" fill="#000" font-weight="bold" transform="translate(170.60 58.92)">KC</text>
<text font-size="5.2" text-anchor="middle" fill="#000" font-weight="bold" transform="translate(195.53 116.35)">KC</text>
<text font-size="5.2" text-anchor="end" fill="#000" font-weight="bold" transform="translate(170.60 74.27)">MF</text>
<text font-size="5.2" text-anchor="middle" fill="#000" font-weight="bold" transform="translate(210.88 116.35)">MF</text>
<text font-size="5.2" text-anchor="end" fill="#000" font-weight="bold" transform="translate(170.60 89.62)">SA</text>
<text font-size="5.2" text-anchor="middle" fill="#000" font-weight="bold" transform="translate(226.22 116.35)">SA</text>
<text font-size="5.2" text-anchor="end" fill="#000" font-weight="bold" transform="translate(170.60 104.98)">WB</text>
<text font-size="5.2" text-anchor="middle" fill="#000" font-weight="bold" transform="translate(241.57 116.35)">WB</text>
<text font-size="6" text-anchor="middle" fill="#000" font-weight="bold" transform="translate(210.88 31.80)">Predict Label</text>
<text font-size="6" text-anchor="middle" fill="#000" font-weight="bold" transform="translate(160.50 72.47) rotate(-90)">True Label</text>
<linearGradient id="g10" x1="0" y1="1" x2="0" y2="0"><stop offset="0.0000" stop-color="#f7fcf0"/><stop offset="0.1250" stop-color="#e0f3db"/><stop offset="0.2500" stop-color="#c8ebc4"/><stop offset="0.3750" stop-color="#a8ddb5"/><stop offset="0.5000" stop-color="#7bccc4"/><stop offset="0.6250" stop-color="#4bb2d6"/><stop offset="0.7500" stop-color="#2889c4"/><stop offset="0.8750" stop-color="#0866b4"/><stop offset="1.0000" stop-color="#0a3f93"/></linearGradient>
<rect x="253.40" y="34.10" width="4.0" height="76.75" fill="url(#g10)"/>
<text font-size="5.2" text-anchor="start" fill="#4a4a4a" transform="translate(259.40 112.65)" stroke="#4a4a4a" stroke-width="0.12">0.0</text>
<text font-size="5.2" text-anchor="start" fill="#4a4a4a" transform="translate(259.40 97.14)" stroke="#4a4a4a" stroke-width="0.12">0.2</text>
<text font-size="5.2" text-anchor="start" fill="#4a4a4a" transform="translate(259.40 81.64)" stroke="#4a4a4a" stroke-width="0.12">0.4</text>
<text font-size="5.2" text-anchor="start" fill="#4a4a4a" transform="translate(259.40 66.13)" stroke="#4a4a4a" stroke-width="0.12">0.6</text>
<text font-size="5.2" text-anchor="start" fill="#4a4a4a" transform="translate(259.40 50.63)" stroke="#4a4a4a" stroke-width="0.12">0.8</text>
<rect x="172.50" y="138.00" width="15.40" height="15.40" fill="#0a3f93"/>
<rect x="187.85" y="138.00" width="15.40" height="15.40" fill="#f7fcf0"/>
<rect x="203.20" y="138.00" width="15.40" height="15.40" fill="#f7fcf0"/>
<rect x="218.55" y="138.00" width="15.40" height="15.40" fill="#f7fcf0"/>
<rect x="233.90" y="138.00" width="15.40" height="15.40" fill="#f7fcf0"/>
<rect x="172.50" y="153.35" width="15.40" height="15.40" fill="#f5fbee"/>
<rect x="187.85" y="153.35" width="15.40" height="15.40" fill="#0a4598"/>
<rect x="203.20" y="153.35" width="15.40" height="15.40" fill="#f5fbee"/>
<rect x="218.55" y="153.35" width="15.40" height="15.40" fill="#f7fcf0"/>
<rect x="233.90" y="153.35" width="15.40" height="15.40" fill="#f7fcf0"/>
<rect x="172.50" y="168.70" width="15.40" height="15.40" fill="#f7fcf0"/>
<rect x="187.85" y="168.70" width="15.40" height="15.40" fill="#f7fcf0"/>
<rect x="203.20" y="168.70" width="15.40" height="15.40" fill="#0a3f93"/>
<rect x="218.55" y="168.70" width="15.40" height="15.40" fill="#f7fcf0"/>
<rect x="233.90" y="168.70" width="15.40" height="15.40" fill="#f7fcf0"/>
<rect x="172.50" y="184.05" width="15.40" height="15.40" fill="#e8f6e3"/>
<rect x="187.85" y="184.05" width="15.40" height="15.40" fill="#f7fcf0"/>
<rect x="203.20" y="184.05" width="15.40" height="15.40" fill="#73c8c7"/>
<rect x="218.55" y="184.05" width="15.40" height="15.40" fill="#c0e8c0"/>
<rect x="233.90" y="184.05" width="15.40" height="15.40" fill="#e1f3dc"/>
<rect x="172.50" y="199.40" width="15.40" height="15.40" fill="#f7fcf0"/>
<rect x="187.85" y="199.40" width="15.40" height="15.40" fill="#f7fcf0"/>
<rect x="203.20" y="199.40" width="15.40" height="15.40" fill="#e8f6e3"/>
<rect x="218.55" y="199.40" width="15.40" height="15.40" fill="#f7fcf0"/>
<rect x="233.90" y="199.40" width="15.40" height="15.40" fill="#0958a8"/>
<rect x="172.50" y="138.00" width="76.75" height="76.75" fill="none" stroke="#d4d4d4" stroke-width="0.7"/>
<text font-size="5.2" text-anchor="middle" fill="#e02030" transform="translate(180.18 146.88)" stroke="#e02030" stroke-width="0.1">1.00</text>
<text font-size="5.2" text-anchor="middle" fill="#3c3c3c" transform="translate(195.53 146.88)" stroke="#3c3c3c" stroke-width="0.1">0.00</text>
<text font-size="5.2" text-anchor="middle" fill="#3c3c3c" transform="translate(210.88 146.88)" stroke="#3c3c3c" stroke-width="0.1">0.00</text>
<text font-size="5.2" text-anchor="middle" fill="#3c3c3c" transform="translate(226.22 146.88)" stroke="#3c3c3c" stroke-width="0.1">0.00</text>
<text font-size="5.2" text-anchor="middle" fill="#3c3c3c" transform="translate(241.57 146.88)" stroke="#3c3c3c" stroke-width="0.1">0.00</text>
<text font-size="5.2" text-anchor="middle" fill="#e02030" transform="translate(180.18 162.22)" stroke="#e02030" stroke-width="0.1">0.01</text>
<text font-size="5.2" text-anchor="middle" fill="#e02030" transform="translate(195.53 162.22)" stroke="#e02030" stroke-width="0.1">0.98</text>
<text font-size="5.2" text-anchor="middle" fill="#e02030" transform="translate(210.88 162.22)" stroke="#e02030" stroke-width="0.1">0.01</text>
<text font-size="5.2" text-anchor="middle" fill="#3c3c3c" transform="translate(226.22 162.22)" stroke="#3c3c3c" stroke-width="0.1">0.00</text>
<text font-size="5.2" text-anchor="middle" fill="#3c3c3c" transform="translate(241.57 162.22)" stroke="#3c3c3c" stroke-width="0.1">0.00</text>
<text font-size="5.2" text-anchor="middle" fill="#3c3c3c" transform="translate(180.18 177.57)" stroke="#3c3c3c" stroke-width="0.1">0.00</text>
<text font-size="5.2" text-anchor="middle" fill="#3c3c3c" transform="translate(195.53 177.57)" stroke="#3c3c3c" stroke-width="0.1">0.00</text>
<text font-size="5.2" text-anchor="middle" fill="#e02030" transform="translate(210.88 177.57)" stroke="#e02030" stroke-width="0.1">1.00</text>
<text font-size="5.2" text-anchor="middle" fill="#3c3c3c" transform="translate(226.22 177.57)" stroke="#3c3c3c" stroke-width="0.1">0.00</text>
<text font-size="5.2" text-anchor="middle" fill="#3c3c3c" transform="translate(241.57 177.57)" stroke="#3c3c3c" stroke-width="0.1">0.00</text>
<text font-size="5.2" text-anchor="middle" fill="#e02030" transform="translate(180.18 192.92)" stroke="#e02030" stroke-width="0.1">0.08</text>
<text font-size="5.2" text-anchor="middle" fill="#3c3c3c" transform="translate(195.53 192.92)" stroke="#3c3c3c" stroke-width="0.1">0.00</text>
<text font-size="5.2" text-anchor="middle" fill="#e02030" transform="translate(210.88 192.92)" stroke="#e02030" stroke-width="0.1">0.52</text>
<text font-size="5.2" text-anchor="middle" fill="#e02030" transform="translate(226.22 192.92)" stroke="#e02030" stroke-width="0.1">0.28</text>
<text font-size="5.2" text-anchor="middle" fill="#e02030" transform="translate(241.57 192.92)" stroke="#e02030" stroke-width="0.1">0.12</text>
<text font-size="5.2" text-anchor="middle" fill="#3c3c3c" transform="translate(180.18 208.27)" stroke="#3c3c3c" stroke-width="0.1">0.00</text>
<text font-size="5.2" text-anchor="middle" fill="#3c3c3c" transform="translate(195.53 208.27)" stroke="#3c3c3c" stroke-width="0.1">0.00</text>
<text font-size="5.2" text-anchor="middle" fill="#e02030" transform="translate(210.88 208.27)" stroke="#e02030" stroke-width="0.1">0.08</text>
<text font-size="5.2" text-anchor="middle" fill="#3c3c3c" transform="translate(226.22 208.27)" stroke="#3c3c3c" stroke-width="0.1">0.00</text>
<text font-size="5.2" text-anchor="middle" fill="#e02030" transform="translate(241.57 208.27)" stroke="#e02030" stroke-width="0.1">0.92</text>
<text font-size="5.2" text-anchor="end" fill="#000" font-weight="bold" transform="translate(170.60 147.48)">AM</text>
<text font-size="5.2" text-anchor="middle" fill="#000" font-weight="bold" transform="translate(180.18 220.25)">AM</text>
<text font-size="5.2" text-anchor="end" fill="#000" font-weight="bold" transform="translate(170.60 162.83)">KC</text>
<text font-size="5.2" text-anchor="middle" fill="#000" font-weight="bold" transform="translate(195.53 220.25)">KC</text>
<text font-size="5.2" text-anchor="end" fill="#000" font-weight="bold" transform="translate(170.60 178.18)">MF</text>
<text font-size="5.2" text-anchor="middle" fill="#000" font-weight="bold" transform="translate(210.88 220.25)">MF</text>
<text font-size="5.2" text-anchor="end" fill="#000" font-weight="bold" transform="translate(170.60 193.53)">SA</text>
<text font-size="5.2" text-anchor="middle" fill="#000" font-weight="bold" transform="translate(226.22 220.25)">SA</text>
<text font-size="5.2" text-anchor="end" fill="#000" font-weight="bold" transform="translate(170.60 208.88)">WB</text>
<text font-size="5.2" text-anchor="middle" fill="#000" font-weight="bold" transform="translate(241.57 220.25)">WB</text>
<text font-size="6" text-anchor="middle" fill="#000" font-weight="bold" transform="translate(210.88 135.70)">Predict Label</text>
<text font-size="6" text-anchor="middle" fill="#000" font-weight="bold" transform="translate(160.50 176.38) rotate(-90)">True Label</text>
<linearGradient id="g11" x1="0" y1="1" x2="0" y2="0"><stop offset="0.0000" stop-color="#f7fcf0"/><stop offset="0.1250" stop-color="#e0f3db"/><stop offset="0.2500" stop-color="#c8ebc4"/><stop offset="0.3750" stop-color="#a8ddb5"/><stop offset="0.5000" stop-color="#7bccc4"/><stop offset="0.6250" stop-color="#4bb2d6"/><stop offset="0.7500" stop-color="#2889c4"/><stop offset="0.8750" stop-color="#0866b4"/><stop offset="1.0000" stop-color="#0a3f93"/></linearGradient>
<rect x="253.40" y="138.00" width="4.0" height="76.75" fill="url(#g11)"/>
<text font-size="5.2" text-anchor="start" fill="#4a4a4a" transform="translate(259.40 216.55)" stroke="#4a4a4a" stroke-width="0.12">0.0</text>
<text font-size="5.2" text-anchor="start" fill="#4a4a4a" transform="translate(259.40 201.20)" stroke="#4a4a4a" stroke-width="0.12">0.2</text>
<text font-size="5.2" text-anchor="start" fill="#4a4a4a" transform="translate(259.40 185.85)" stroke="#4a4a4a" stroke-width="0.12">0.4</text>
<text font-size="5.2" text-anchor="start" fill="#4a4a4a" transform="translate(259.40 170.50)" stroke="#4a4a4a" stroke-width="0.12">0.6</text>
<text font-size="5.2" text-anchor="start" fill="#4a4a4a" transform="translate(259.40 155.15)" stroke="#4a4a4a" stroke-width="0.12">0.8</text>
<text font-size="5.2" text-anchor="start" fill="#4a4a4a" transform="translate(259.40 139.80)" stroke="#4a4a4a" stroke-width="0.12">1.0</text>
<rect x="172.50" y="241.90" width="15.40" height="15.40" fill="#0a3f93"/>
<rect x="187.85" y="241.90" width="15.40" height="15.40" fill="#f7fcf0"/>
<rect x="203.20" y="241.90" width="15.40" height="15.40" fill="#f7fcf0"/>
<rect x="218.55" y="241.90" width="15.40" height="15.40" fill="#f7fcf0"/>
<rect x="233.90" y="241.90" width="15.40" height="15.40" fill="#f7fcf0"/>
<rect x="172.50" y="257.25" width="15.40" height="15.40" fill="#f7fcf0"/>
<rect x="187.85" y="257.25" width="15.40" height="15.40" fill="#0a3f93"/>
<rect x="203.20" y="257.25" width="15.40" height="15.40" fill="#f7fcf0"/>
<rect x="218.55" y="257.25" width="15.40" height="15.40" fill="#f7fcf0"/>
<rect x="233.90" y="257.25" width="15.40" height="15.40" fill="#f7fcf0"/>
<rect x="172.50" y="272.60" width="15.40" height="15.40" fill="#f7fcf0"/>
<rect x="187.85" y="272.60" width="15.40" height="15.40" fill="#f7fcf0"/>
<rect x="203.20" y="272.60" width="15.40" height="15.40" fill="#0a4598"/>
<rect x="218.55" y="272.60" width="15.40" height="15.40" fill="#f7fcf0"/>
<rect x="233.90" y="272.60" width="15.40" height="15.40" fill="#f3fbed"/>
<rect x="172.50" y="287.95" width="15.40" height="15.40" fill="#f7fcf0"/>
<rect x="187.85" y="287.95" width="15.40" height="15.40" fill="#f1faeb"/>
<rect x="203.20" y="287.95" width="15.40" height="15.40" fill="#b6e3bc"/>
<rect x="218.55" y="287.95" width="15.40" height="15.40" fill="#68c2cb"/>
<rect x="233.90" y="287.95" width="15.40" height="15.40" fill="#e5f5df"/>
<rect x="172.50" y="303.30" width="15.40" height="15.40" fill="#f7fcf0"/>
<rect x="187.85" y="303.30" width="15.40" height="15.40" fill="#f7fcf0"/>
<rect x="203.20" y="303.30" width="15.40" height="15.40" fill="#f1faeb"/>
<rect x="218.55" y="303.30" width="15.40" height="15.40" fill="#f7fcf0"/>
<rect x="233.90" y="303.30" width="15.40" height="15.40" fill="#0a489b"/>
<rect x="172.50" y="241.90" width="76.75" height="76.75" fill="none" stroke="#d4d4d4" stroke-width="0.7"/>
<text font-size="5.2" text-anchor="middle" fill="#e02030" transform="translate(180.18 250.78)" stroke="#e02030" stroke-width="0.1">1.00</text>
<text font-size="5.2" text-anchor="middle" fill="#3c3c3c" transform="translate(195.53 250.78)" stroke="#3c3c3c" stroke-width="0.1">0.00</text>
<text font-size="5.2" text-anchor="middle" fill="#3c3c3c" transform="translate(210.88 250.78)" stroke="#3c3c3c" stroke-width="0.1">0.00</text>
<text font-size="5.2" text-anchor="middle" fill="#3c3c3c" transform="translate(226.22 250.78)" stroke="#3c3c3c" stroke-width="0.1">0.00</text>
<text font-size="5.2" text-anchor="middle" fill="#3c3c3c" transform="translate(241.57 250.78)" stroke="#3c3c3c" stroke-width="0.1">0.00</text>
<text font-size="5.2" text-anchor="middle" fill="#3c3c3c" transform="translate(180.18 266.12)" stroke="#3c3c3c" stroke-width="0.1">0.00</text>
<text font-size="5.2" text-anchor="middle" fill="#e02030" transform="translate(195.53 266.12)" stroke="#e02030" stroke-width="0.1">1.00</text>
<text font-size="5.2" text-anchor="middle" fill="#3c3c3c" transform="translate(210.88 266.12)" stroke="#3c3c3c" stroke-width="0.1">0.00</text>
<text font-size="5.2" text-anchor="middle" fill="#3c3c3c" transform="translate(226.22 266.12)" stroke="#3c3c3c" stroke-width="0.1">0.00</text>
<text font-size="5.2" text-anchor="middle" fill="#3c3c3c" transform="translate(241.57 266.12)" stroke="#3c3c3c" stroke-width="0.1">0.00</text>
<text font-size="5.2" text-anchor="middle" fill="#3c3c3c" transform="translate(180.18 281.47)" stroke="#3c3c3c" stroke-width="0.1">0.00</text>
<text font-size="5.2" text-anchor="middle" fill="#3c3c3c" transform="translate(195.53 281.47)" stroke="#3c3c3c" stroke-width="0.1">0.00</text>
<text font-size="5.2" text-anchor="middle" fill="#e02030" transform="translate(210.88 281.47)" stroke="#e02030" stroke-width="0.1">0.98</text>
<text font-size="5.2" text-anchor="middle" fill="#3c3c3c" transform="translate(226.22 281.47)" stroke="#3c3c3c" stroke-width="0.1">0.00</text>
<text font-size="5.2" text-anchor="middle" fill="#e02030" transform="translate(241.57 281.47)" stroke="#e02030" stroke-width="0.1">0.02</text>
<text font-size="5.2" text-anchor="middle" fill="#3c3c3c" transform="translate(180.18 296.82)" stroke="#3c3c3c" stroke-width="0.1">0.00</text>
<text font-size="5.2" text-anchor="middle" fill="#e02030" transform="translate(195.53 296.82)" stroke="#e02030" stroke-width="0.1">0.03</text>
<text font-size="5.2" text-anchor="middle" fill="#e02030" transform="translate(210.88 296.82)" stroke="#e02030" stroke-width="0.1">0.32</text>
<text font-size="5.2" text-anchor="middle" fill="#e02030" transform="translate(226.22 296.82)" stroke="#e02030" stroke-width="0.1">0.55</text>
<text font-size="5.2" text-anchor="middle" fill="#e02030" transform="translate(241.57 296.82)" stroke="#e02030" stroke-width="0.1">0.10</text>
<text font-size="5.2" text-anchor="middle" fill="#3c3c3c" transform="translate(180.18 312.18)" stroke="#3c3c3c" stroke-width="0.1">0.00</text>
<text font-size="5.2" text-anchor="middle" fill="#3c3c3c" transform="translate(195.53 312.18)" stroke="#3c3c3c" stroke-width="0.1">0.00</text>
<text font-size="5.2" text-anchor="middle" fill="#e02030" transform="translate(210.88 312.18)" stroke="#e02030" stroke-width="0.1">0.03</text>
<text font-size="5.2" text-anchor="middle" fill="#3c3c3c" transform="translate(226.22 312.18)" stroke="#3c3c3c" stroke-width="0.1">0.00</text>
<text font-size="5.2" text-anchor="middle" fill="#e02030" transform="translate(241.57 312.18)" stroke="#e02030" stroke-width="0.1">0.97</text>
<text font-size="5.2" text-anchor="end" fill="#000" font-weight="bold" transform="translate(170.60 251.38)">AM</text>
<text font-size="5.2" text-anchor="middle" fill="#000" font-weight="bold" transform="translate(180.18 324.15)">AM</text>
<text font-size="5.2" text-anchor="end" fill="#000" font-weight="bold" transform="translate(170.60 266.73)">KC</text>
<text font-size="5.2" text-anchor="middle" fill="#000" font-weight="bold" transform="translate(195.53 324.15)">KC</text>
<text font-size="5.2" text-anchor="end" fill="#000" font-weight="bold" transform="translate(170.60 282.07)">MF</text>
<text font-size="5.2" text-anchor="middle" fill="#000" font-weight="bold" transform="translate(210.88 324.15)">MF</text>
<text font-size="5.2" text-anchor="end" fill="#000" font-weight="bold" transform="translate(170.60 297.43)">SA</text>
<text font-size="5.2" text-anchor="middle" fill="#000" font-weight="bold" transform="translate(226.22 324.15)">SA</text>
<text font-size="5.2" text-anchor="end" fill="#000" font-weight="bold" transform="translate(170.60 312.78)">WB</text>
<text font-size="5.2" text-anchor="middle" fill="#000" font-weight="bold" transform="translate(241.57 324.15)">WB</text>
<text font-size="6" text-anchor="middle" fill="#000" font-weight="bold" transform="translate(210.88 239.60)">Predict Label</text>
<text font-size="6" text-anchor="middle" fill="#000" font-weight="bold" transform="translate(160.50 280.27) rotate(-90)">True Label</text>
<linearGradient id="g12" x1="0" y1="1" x2="0" y2="0"><stop offset="0.0000" stop-color="#f7fcf0"/><stop offset="0.1250" stop-color="#e0f3db"/><stop offset="0.2500" stop-color="#c8ebc4"/><stop offset="0.3750" stop-color="#a8ddb5"/><stop offset="0.5000" stop-color="#7bccc4"/><stop offset="0.6250" stop-color="#4bb2d6"/><stop offset="0.7500" stop-color="#2889c4"/><stop offset="0.8750" stop-color="#0866b4"/><stop offset="1.0000" stop-color="#0a3f93"/></linearGradient>
<rect x="253.40" y="241.90" width="4.0" height="76.75" fill="url(#g12)"/>
<text font-size="5.2" text-anchor="start" fill="#4a4a4a" transform="translate(259.40 320.45)" stroke="#4a4a4a" stroke-width="0.12">0.0</text>
<text font-size="5.2" text-anchor="start" fill="#4a4a4a" transform="translate(259.40 305.10)" stroke="#4a4a4a" stroke-width="0.12">0.2</text>
<text font-size="5.2" text-anchor="start" fill="#4a4a4a" transform="translate(259.40 289.75)" stroke="#4a4a4a" stroke-width="0.12">0.4</text>
<text font-size="5.2" text-anchor="start" fill="#4a4a4a" transform="translate(259.40 274.40)" stroke="#4a4a4a" stroke-width="0.12">0.6</text>
<text font-size="5.2" text-anchor="start" fill="#4a4a4a" transform="translate(259.40 259.05)" stroke="#4a4a4a" stroke-width="0.12">0.8</text>
<text font-size="5.2" text-anchor="start" fill="#4a4a4a" transform="translate(259.40 243.70)" stroke="#4a4a4a" stroke-width="0.12">1.0</text>
<rect x="172.50" y="345.80" width="15.40" height="15.40" fill="#0a3f93"/>
<rect x="187.85" y="345.80" width="15.40" height="15.40" fill="#f7fcf0"/>
<rect x="203.20" y="345.80" width="15.40" height="15.40" fill="#f7fcf0"/>
<rect x="218.55" y="345.80" width="15.40" height="15.40" fill="#f7fcf0"/>
<rect x="233.90" y="345.80" width="15.40" height="15.40" fill="#f7fcf0"/>
<rect x="172.50" y="361.15" width="15.40" height="15.40" fill="#f7fcf0"/>
<rect x="187.85" y="361.15" width="15.40" height="15.40" fill="#0955a5"/>
<rect x="203.20" y="361.15" width="15.40" height="15.40" fill="#eaf7e4"/>
<rect x="218.55" y="361.15" width="15.40" height="15.40" fill="#f7fcf0"/>
<rect x="233.90" y="361.15" width="15.40" height="15.40" fill="#f7fcf0"/>
<rect x="172.50" y="376.50" width="15.40" height="15.40" fill="#f7fcf0"/>
<rect x="187.85" y="376.50" width="15.40" height="15.40" fill="#f7fcf0"/>
<rect x="203.20" y="376.50" width="15.40" height="15.40" fill="#0a4598"/>
<rect x="218.55" y="376.50" width="15.40" height="15.40" fill="#f7fcf0"/>
<rect x="233.90" y="376.50" width="15.40" height="15.40" fill="#f3fbed"/>
<rect x="172.50" y="391.85" width="15.40" height="15.40" fill="#f7fcf0"/>
<rect x="187.85" y="391.85" width="15.40" height="15.40" fill="#f7fcf0"/>
<rect x="203.20" y="391.85" width="15.40" height="15.40" fill="#2e90c7"/>
<rect x="218.55" y="391.85" width="15.40" height="15.40" fill="#c8ebc4"/>
<rect x="233.90" y="391.85" width="15.40" height="15.40" fill="#f1faeb"/>
<rect x="172.50" y="407.20" width="15.40" height="15.40" fill="#f7fcf0"/>
<rect x="187.85" y="407.20" width="15.40" height="15.40" fill="#f7fcf0"/>
<rect x="203.20" y="407.20" width="15.40" height="15.40" fill="#f3fbed"/>
<rect x="218.55" y="407.20" width="15.40" height="15.40" fill="#f7fcf0"/>
<rect x="233.90" y="407.20" width="15.40" height="15.40" fill="#0a4598"/>
<rect x="172.50" y="345.80" width="76.75" height="76.75" fill="none" stroke="#d4d4d4" stroke-width="0.7"/>
<text font-size="5.2" text-anchor="middle" fill="#e02030" transform="translate(180.18 354.68)" stroke="#e02030" stroke-width="0.1">1.00</text>
<text font-size="5.2" text-anchor="middle" fill="#3c3c3c" transform="translate(195.53 354.68)" stroke="#3c3c3c" stroke-width="0.1">0.00</text>
<text font-size="5.2" text-anchor="middle" fill="#3c3c3c" transform="translate(210.88 354.68)" stroke="#3c3c3c" stroke-width="0.1">0.00</text>
<text font-size="5.2" text-anchor="middle" fill="#3c3c3c" transform="translate(226.22 354.68)" stroke="#3c3c3c" stroke-width="0.1">0.00</text>
<text font-size="5.2" text-anchor="middle" fill="#3c3c3c" transform="translate(241.57 354.68)" stroke="#3c3c3c" stroke-width="0.1">0.00</text>
<text font-size="5.2" text-anchor="middle" fill="#3c3c3c" transform="translate(180.18 370.02)" stroke="#3c3c3c" stroke-width="0.1">0.00</text>
<text font-size="5.2" text-anchor="middle" fill="#e02030" transform="translate(195.53 370.02)" stroke="#e02030" stroke-width="0.1">0.93</text>
<text font-size="5.2" text-anchor="middle" fill="#e02030" transform="translate(210.88 370.02)" stroke="#e02030" stroke-width="0.1">0.07</text>
<text font-size="5.2" text-anchor="middle" fill="#3c3c3c" transform="translate(226.22 370.02)" stroke="#3c3c3c" stroke-width="0.1">0.00</text>
<text font-size="5.2" text-anchor="middle" fill="#3c3c3c" transform="translate(241.57 370.02)" stroke="#3c3c3c" stroke-width="0.1">0.00</text>
<text font-size="5.2" text-anchor="middle" fill="#3c3c3c" transform="translate(180.18 385.38)" stroke="#3c3c3c" stroke-width="0.1">0.00</text>
<text font-size="5.2" text-anchor="middle" fill="#3c3c3c" transform="translate(195.53 385.38)" stroke="#3c3c3c" stroke-width="0.1">0.00</text>
<text font-size="5.2" text-anchor="middle" fill="#e02030" transform="translate(210.88 385.38)" stroke="#e02030" stroke-width="0.1">0.98</text>
<text font-size="5.2" text-anchor="middle" fill="#3c3c3c" transform="translate(226.22 385.38)" stroke="#3c3c3c" stroke-width="0.1">0.00</text>
<text font-size="5.2" text-anchor="middle" fill="#e02030" transform="translate(241.57 385.38)" stroke="#e02030" stroke-width="0.1">0.02</text>
<text font-size="5.2" text-anchor="middle" fill="#3c3c3c" transform="translate(180.18 400.73)" stroke="#3c3c3c" stroke-width="0.1">0.00</text>
<text font-size="5.2" text-anchor="middle" fill="#3c3c3c" transform="translate(195.53 400.73)" stroke="#3c3c3c" stroke-width="0.1">0.00</text>
<text font-size="5.2" text-anchor="middle" fill="#e02030" transform="translate(210.88 400.73)" stroke="#e02030" stroke-width="0.1">0.73</text>
<text font-size="5.2" text-anchor="middle" fill="#e02030" transform="translate(226.22 400.73)" stroke="#e02030" stroke-width="0.1">0.25</text>
<text font-size="5.2" text-anchor="middle" fill="#e02030" transform="translate(241.57 400.73)" stroke="#e02030" stroke-width="0.1">0.03</text>
<text font-size="5.2" text-anchor="middle" fill="#3c3c3c" transform="translate(180.18 416.07)" stroke="#3c3c3c" stroke-width="0.1">0.00</text>
<text font-size="5.2" text-anchor="middle" fill="#3c3c3c" transform="translate(195.53 416.07)" stroke="#3c3c3c" stroke-width="0.1">0.00</text>
<text font-size="5.2" text-anchor="middle" fill="#e02030" transform="translate(210.88 416.07)" stroke="#e02030" stroke-width="0.1">0.02</text>
<text font-size="5.2" text-anchor="middle" fill="#3c3c3c" transform="translate(226.22 416.07)" stroke="#3c3c3c" stroke-width="0.1">0.00</text>
<text font-size="5.2" text-anchor="middle" fill="#e02030" transform="translate(241.57 416.07)" stroke="#e02030" stroke-width="0.1">0.98</text>
<text font-size="5.2" text-anchor="end" fill="#000" font-weight="bold" transform="translate(170.60 355.28)">AM</text>
<text font-size="5.2" text-anchor="middle" fill="#000" font-weight="bold" transform="translate(180.18 428.05)">AM</text>
<text font-size="5.2" text-anchor="end" fill="#000" font-weight="bold" transform="translate(170.60 370.62)">KC</text>
<text font-size="5.2" text-anchor="middle" fill="#000" font-weight="bold" transform="translate(195.53 428.05)">KC</text>
<text font-size="5.2" text-anchor="end" fill="#000" font-weight="bold" transform="translate(170.60 385.98)">MF</text>
<text font-size="5.2" text-anchor="middle" fill="#000" font-weight="bold" transform="translate(210.88 428.05)">MF</text>
<text font-size="5.2" text-anchor="end" fill="#000" font-weight="bold" transform="translate(170.60 401.33)">SA</text>
<text font-size="5.2" text-anchor="middle" fill="#000" font-weight="bold" transform="translate(226.22 428.05)">SA</text>
<text font-size="5.2" text-anchor="end" fill="#000" font-weight="bold" transform="translate(170.60 416.68)">WB</text>
<text font-size="5.2" text-anchor="middle" fill="#000" font-weight="bold" transform="translate(241.57 428.05)">WB</text>
<text font-size="6" text-anchor="middle" fill="#000" font-weight="bold" transform="translate(210.88 343.50)">Predict Label</text>
<text font-size="6" text-anchor="middle" fill="#000" font-weight="bold" transform="translate(160.50 384.18) rotate(-90)">True Label</text>
<linearGradient id="g13" x1="0" y1="1" x2="0" y2="0"><stop offset="0.0000" stop-color="#f7fcf0"/><stop offset="0.1250" stop-color="#e0f3db"/><stop offset="0.2500" stop-color="#c8ebc4"/><stop offset="0.3750" stop-color="#a8ddb5"/><stop offset="0.5000" stop-color="#7bccc4"/><stop offset="0.6250" stop-color="#4bb2d6"/><stop offset="0.7500" stop-color="#2889c4"/><stop offset="0.8750" stop-color="#0866b4"/><stop offset="1.0000" stop-color="#0a3f93"/></linearGradient>
<rect x="253.40" y="345.80" width="4.0" height="76.75" fill="url(#g13)"/>
<text font-size="5.2" text-anchor="start" fill="#4a4a4a" transform="translate(259.40 424.35)" stroke="#4a4a4a" stroke-width="0.12">0.0</text>
<text font-size="5.2" text-anchor="start" fill="#4a4a4a" transform="translate(259.40 409.00)" stroke="#4a4a4a" stroke-width="0.12">0.2</text>
<text font-size="5.2" text-anchor="start" fill="#4a4a4a" transform="translate(259.40 393.65)" stroke="#4a4a4a" stroke-width="0.12">0.4</text>
<text font-size="5.2" text-anchor="start" fill="#4a4a4a" transform="translate(259.40 378.30)" stroke="#4a4a4a" stroke-width="0.12">0.6</text>
<text font-size="5.2" text-anchor="start" fill="#4a4a4a" transform="translate(259.40 362.95)" stroke="#4a4a4a" stroke-width="0.12">0.8</text>
<text font-size="5.2" text-anchor="start" fill="#4a4a4a" transform="translate(259.40 347.60)" stroke="#4a4a4a" stroke-width="0.12">1.0</text>
<text font-size="14.1" text-anchor="start" fill="#000" transform="translate(63.60 17.30) scale(1 1.07)" stroke="#000" stroke-width="0.22">Region 1</text>
<text font-size="14.1" text-anchor="start" fill="#000" transform="translate(188.00 17.30) scale(1 1.07)" stroke="#000" stroke-width="0.22">Region 3</text>
<text font-size="14.4" text-anchor="middle" fill="#000" transform="translate(21.10 72.47) rotate(-90) scale(1 1.07)" stroke="#000" stroke-width="0.22">OS</text>
<text font-size="14.4" text-anchor="middle" fill="#000" transform="translate(21.10 176.38) rotate(-90) scale(1 1.07)" stroke="#000" stroke-width="0.22">OST</text>
<text font-size="14.4" text-anchor="middle" fill="#000" transform="translate(21.10 280.27) rotate(-90) scale(1 1.07)" stroke="#000" stroke-width="0.22">OSV</text>
<text font-size="14.4" text-anchor="middle" fill="#000" transform="translate(21.10 384.18) rotate(-90) scale(1 1.07)" stroke="#000" stroke-width="0.22">OSTV</text>
<line x1="272.9" y1="26.2" x2="272.9" y2="432" stroke="#222" stroke-width="1.9" stroke-dasharray="4.2 3.17"/>
<line x1="319.10" y1="100.05" x2="534.60" y2="100.05" stroke="#c4c4c4" stroke-width="0.8" stroke-dasharray="3 2.5"/>
<line x1="319.10" y1="166.20" x2="534.60" y2="166.20" stroke="#c4c4c4" stroke-width="0.8" stroke-dasharray="3 2.5"/>
<line x1="319.10" y1="232.35" x2="534.60" y2="232.35" stroke="#c4c4c4" stroke-width="0.8" stroke-dasharray="3 2.5"/>
<line x1="319.10" y1="298.50" x2="534.60" y2="298.50" stroke="#c4c4c4" stroke-width="0.8" stroke-dasharray="3 2.5"/>
<rect x="482.10" y="40.52" width="9.40" height="13.23" fill="#fdd9b8" stroke="#f5a04f" stroke-width="1"/>
<rect x="457.32" y="53.75" width="34.18" height="13.23" fill="#c6e6c6" stroke="#5cbd5c" stroke-width="1"/>
<rect x="480.38" y="66.98" width="11.12" height="13.23" fill="#dccbe3" stroke="#a583c4" stroke-width="1"/>
<rect x="479.00" y="80.21" width="12.50" height="13.23" fill="#bcd2f7" stroke="#4a82e0" stroke-width="1"/>
<text font-size="11.6" text-anchor="end" fill="#000" transform="translate(315.70 70.27) scale(1 1.13)" stroke="#000" stroke-width="0.22">AM</text>
<rect x="491.50" y="106.67" width="1.29" height="13.23" fill="#fdd9b8" stroke="#f5a04f" stroke-width="1"/>
<rect x="473.48" y="119.90" width="18.02" height="13.23" fill="#c6e6c6" stroke="#5cbd5c" stroke-width="1"/>
<rect x="482.41" y="133.12" width="9.09" height="13.23" fill="#dccbe3" stroke="#a583c4" stroke-width="1"/>
<rect x="468.10" y="146.36" width="23.40" height="13.23" fill="#bcd2f7" stroke="#4a82e0" stroke-width="1"/>
<text font-size="11.6" text-anchor="end" fill="#000" transform="translate(315.70 136.43) scale(1 1.13)" stroke="#000" stroke-width="0.22">KC</text>
<rect x="466.11" y="172.82" width="25.39" height="13.23" fill="#fdd9b8" stroke="#f5a04f" stroke-width="1"/>
<rect x="473.92" y="186.05" width="17.58" height="13.23" fill="#c6e6c6" stroke="#5cbd5c" stroke-width="1"/>
<rect x="379.18" y="199.28" width="112.32" height="13.23" fill="#dccbe3" stroke="#a583c4" stroke-width="1"/>
<rect x="358.49" y="212.51" width="133.01" height="13.23" fill="#bcd2f7" stroke="#4a82e0" stroke-width="1"/>
<text font-size="11.6" text-anchor="end" fill="#000" transform="translate(315.70 202.58) scale(1 1.13)" stroke="#000" stroke-width="0.22">MF</text>
<rect x="476.11" y="238.97" width="15.39" height="13.23" fill="#fdd9b8" stroke="#f5a04f" stroke-width="1"/>
<rect x="490.85" y="252.20" width="0.65" height="13.23" fill="#c6e6c6" stroke="#5cbd5c" stroke-width="1"/>
<rect x="387.63" y="265.43" width="103.87" height="13.23" fill="#dccbe3" stroke="#a583c4" stroke-width="1"/>
<rect x="370.39" y="278.66" width="121.11" height="13.23" fill="#bcd2f7" stroke="#4a82e0" stroke-width="1"/>
<text font-size="11.6" text-anchor="end" fill="#000" transform="translate(315.70 268.73) scale(1 1.13)" stroke="#000" stroke-width="0.22">SA</text>
<rect x="491.50" y="305.12" width="35.99" height="13.23" fill="#fdd9b8" stroke="#f5a04f" stroke-width="1"/>
<rect x="491.50" y="318.35" width="33.32" height="13.23" fill="#c6e6c6" stroke="#5cbd5c" stroke-width="1"/>
<rect x="470.68" y="331.57" width="20.82" height="13.23" fill="#dccbe3" stroke="#a583c4" stroke-width="1"/>
<rect x="446.50" y="344.81" width="45.00" height="13.23" fill="#bcd2f7" stroke="#4a82e0" stroke-width="1"/>
<text font-size="11.6" text-anchor="end" fill="#000" transform="translate(315.70 334.88) scale(1 1.13)" stroke="#000" stroke-width="0.22">WB</text>
<line x1="491.50" y1="33.90" x2="491.50" y2="368.05" stroke="#333" stroke-width="1"/>
<line x1="488.50" y1="33.90" x2="494.50" y2="33.90" stroke="#333" stroke-width="1"/>
<line x1="488.50" y1="100.05" x2="494.50" y2="100.05" stroke="#333" stroke-width="1"/>
<line x1="488.50" y1="166.20" x2="494.50" y2="166.20" stroke="#333" stroke-width="1"/>
<line x1="488.50" y1="232.35" x2="494.50" y2="232.35" stroke="#333" stroke-width="1"/>
<line x1="488.50" y1="298.50" x2="494.50" y2="298.50" stroke="#333" stroke-width="1"/>
<line x1="318.50" y1="364.80" x2="535.20" y2="364.80" stroke="#5a5a5a" stroke-width="1.2"/>
<line x1="319.10" y1="364.80" x2="319.10" y2="367.60" stroke="#5a5a5a" stroke-width="1.1"/>
<text font-size="11.4" text-anchor="middle" fill="#000" transform="translate(319.10 378.80) scale(1 1.07)" stroke="#000" stroke-width="0.22">-40</text>
<line x1="362.20" y1="364.80" x2="362.20" y2="367.60" stroke="#5a5a5a" stroke-width="1.1"/>
<text font-size="11.4" text-anchor="middle" fill="#000" transform="translate(362.20 378.80) scale(1 1.07)" stroke="#000" stroke-width="0.22">-30</text>
<line x1="405.30" y1="364.80" x2="405.30" y2="367.60" stroke="#5a5a5a" stroke-width="1.1"/>
<text font-size="11.4" text-anchor="middle" fill="#000" transform="translate(405.30 378.80) scale(1 1.07)" stroke="#000" stroke-width="0.22">-20</text>
<line x1="448.40" y1="364.80" x2="448.40" y2="367.60" stroke="#5a5a5a" stroke-width="1.1"/>
<text font-size="11.4" text-anchor="middle" fill="#000" transform="translate(448.40 378.80) scale(1 1.07)" stroke="#000" stroke-width="0.22">-10</text>
<line x1="491.50" y1="364.80" x2="491.50" y2="367.60" stroke="#5a5a5a" stroke-width="1.1"/>
<text font-size="11.4" text-anchor="middle" fill="#000" transform="translate(491.50 378.80) scale(1 1.07)" stroke="#000" stroke-width="0.22">0</text>
<line x1="534.60" y1="364.80" x2="534.60" y2="367.60" stroke="#5a5a5a" stroke-width="1.1"/>
<text font-size="11.4" text-anchor="middle" fill="#000" transform="translate(534.60 378.80) scale(1 1.07)" stroke="#000" stroke-width="0.22">10</text>
<text font-size="14.6" text-anchor="middle" fill="#000" transform="translate(427.40 396.20) scale(1 1.07)" stroke="#000" stroke-width="0.22">D-value of F1-score (%)</text>
<text font-size="14.6" text-anchor="middle" fill="#000" transform="translate(287.50 199.40) rotate(-90) scale(1 1.07)" stroke="#000" stroke-width="0.22">Classes</text>
<text font-size="14.4" text-anchor="middle" fill="#000" transform="translate(426.80 15.90) scale(1 1.07)" stroke="#000" stroke-width="0.22">Region 1 - Region 3</text>
<rect x="296.9" y="406.8" width="222.4" height="17.1" fill="#fff" stroke="#444" stroke-width="1"/>
<rect x="300.00" y="409.7" width="25.2" height="11.2" fill="#fdd9b8" stroke="#f5a04f" stroke-width="1"/>
<text font-size="11.8" text-anchor="start" fill="#000" transform="translate(328.90 419.40) scale(1 1.07)" stroke="#000" stroke-width="0.22">OS</text>
<rect x="347.80" y="409.7" width="25.2" height="11.2" fill="#c6e6c6" stroke="#5cbd5c" stroke-width="1"/>
<text font-size="11.8" text-anchor="start" fill="#000" transform="translate(376.70 419.40) scale(1 1.07)" stroke="#000" stroke-width="0.22">OST</text>
<rect x="402.00" y="409.7" width="25.2" height="11.2" fill="#dccbe3" stroke="#a583c4" stroke-width="1"/>
<text font-size="11.8" text-anchor="start" fill="#000" transform="translate(430.70 419.40) scale(1 1.07)" stroke="#000" stroke-width="0.22">OSV</text>
<rect x="457.80" y="409.7" width="25.2" height="11.2" fill="#bcd2f7" stroke="#4a82e0" stroke-width="1"/>
<text font-size="11.8" text-anchor="start" fill="#000" transform="translate(486.70 419.40) scale(1 1.07)" stroke="#000" stroke-width="0.22">OSTV</text>
<text font-size="13.8" text-anchor="middle" fill="#000" transform="translate(148.50 446.10) scale(1 1.07)" stroke="#000" stroke-width="0.22">(a)</text>
<text font-size="13.8" text-anchor="middle" fill="#000" transform="translate(411.10 446.00) scale(1 1.07)" stroke="#000" stroke-width="0.22">(b)</text>
</svg>
</body></html>
